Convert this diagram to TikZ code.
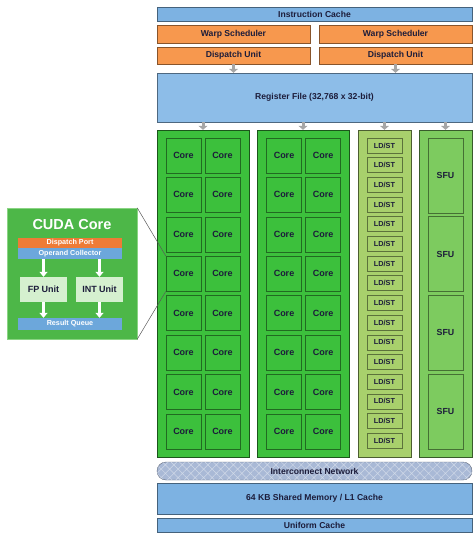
\documentclass[tikz,border=0pt]{standalone}
\usepackage{fontspec}
\setmainfont{Liberation Sans}
\usetikzlibrary{arrows.meta,patterns.meta}
\definecolor{bleu}{HTML}{7DB2E2}
\definecolor{bleuclair}{HTML}{8DBDE8}
\definecolor{orange}{HTML}{F7984E}
\definecolor{vert}{HTML}{3CC03C}
\definecolor{vertldst}{HTML}{A8D06C}
\definecolor{vertsfu}{HTML}{7DCB5F}
\definecolor{vertcuda}{HTML}{4DB748}
\definecolor{vertbord}{HTML}{8AD483}
\definecolor{vertpale}{HTML}{D5F0CF}
\definecolor{orangecuda}{HTML}{EE7B36}
\definecolor{bleucuda}{HTML}{6CA7DB}
\definecolor{reseau}{HTML}{A9B9D6}
\definecolor{gris}{HTML}{A6A6A6}
\definecolor{encre}{HTML}{1C1C3A}
\begin{document}
\begin{tikzpicture}[x=1pt,y=-1pt,
    bloc/.style={draw=#1!55!black,fill=#1,inner sep=0pt,text=encre,
      font=\bfseries\fontsize{8.6}{10}\selectfont},
    colonne/.style={draw=#1!45!black,fill=#1,inner sep=0pt,minimum height=327pt},
    core/.style={bloc=vert,minimum width=35pt,minimum height=35pt,
      font=\bfseries\fontsize{9}{10}\selectfont},
    ldst/.style={bloc=vertldst,minimum width=35pt,minimum height=15pt,
      font=\bfseries\fontsize{7.3}{8}\selectfont},
    sfu/.style={bloc=vertsfu,minimum width=35pt,minimum height=75pt,
      font=\bfseries\fontsize{8.8}{10}\selectfont},
    fleche/.style={-{Triangle[width=9pt,length=4pt]},line width=3pt,draw=gris},
    blanche/.style={-{Triangle[width=8pt,length=5pt]},line width=2.5pt,draw=white},
    petit/.style={inner sep=0pt,text=white,font=\bfseries\fontsize{7.2}{8}\selectfont},
    trait/.style={draw=black!65,line width=0.5pt}]
  \useasboundingbox (0,0) rectangle (474,537) ;
  %--- Ordonnancement
  \node[bloc=bleu,minimum width=315pt,minimum height=14pt] (ic) at (314.5,14) {Instruction Cache} ;
  \node[bloc=orange,minimum width=153pt,minimum height=18pt] (ws1) at (233.5,34) {Warp Scheduler} ;
  \node[bloc=orange,minimum width=153pt,minimum height=18pt] (ws2) at (395.5,34) {Warp Scheduler} ;
  \node[bloc=orange,minimum width=153pt,minimum height=17pt] (du1) at (233.5,55.5) {Dispatch Unit} ;
  \node[bloc=orange,minimum width=153pt,minimum height=17pt] (du2) at (395.5,55.5) {Dispatch Unit} ;
  \node[bloc=bleuclair,minimum width=315pt,minimum height=49pt] (rf) at (314.5,97.5) {Register File (32,768 x 32-bit)} ;
  \draw[fleche] (du1.south) -- (rf.north -| du1) ;
  \draw[fleche] (du2.south) -- (rf.north -| du2) ;
  %--- Colonnes
  \node[colonne=vert,minimum width=92pt] (col1) at (203,293.5) {} ;
  \node[colonne=vert,minimum width=92pt] (col2) at (303,293.5) {} ;
  \node[colonne=vertldst,minimum width=53pt] (col3) at (384.5,293.5) {} ;
  \node[colonne=vertsfu,minimum width=53pt] (col4) at (445.5,293.5) {} ;
  \foreach \k in {1,...,4}
    \draw[fleche] (rf.south -| col\k) -- (col\k.north) ;
  \foreach \c/\x in {1/183.5,2/222.5,3/284,4/323}
    \foreach \r in {1,...,8}
      \node[core] (c\c\r) at (\x,{155.5+39.4*(\r-1)}) {Core} ;
  \foreach \i in {1,...,16}
    \node[ldst] (ls\i) at (384.5,{145.5+19.67*(\i-1)}) {LD/ST} ;
  \foreach \i in {1,...,4}
    \node[sfu] (sfu\i) at (445.5,{175.5+78.67*(\i-1)}) {SFU} ;
  %--- Memoire
  \node[bloc=reseau,minimum width=315pt,minimum height=18pt,rounded corners=9pt,
    postaction={pattern={Hatch[angle=45,distance=6pt,line width=0.5pt]},pattern color=white!45!reseau}] (net) at (314.5,471) {} ;
  \node[text=encre,font=\bfseries\fontsize{8.6}{10}\selectfont] (netl) at (net) {Interconnect Network} ;
  \node[bloc=bleu,minimum width=315pt,minimum height=31pt] (sm) at (314.5,498.5) {64 KB Shared Memory / L1 Cache} ;
  \node[bloc=bleu,minimum width=315pt,minimum height=14pt] (uc) at (314.5,525) {Uniform Cache} ;
  %--- CUDA Core
  \node[draw=vertbord,fill=vertcuda,minimum width=130pt,minimum height=131pt] (cuda) at (72,273.5) {} ;
  \node[text=white,font=\bfseries\fontsize{14.5}{16}\selectfont] (titre) at (72,225) {CUDA Core} ;
  \node[petit,fill=orangecuda,minimum width=104pt,minimum height=10pt] (dp) at (70,243) {Dispatch Port} ;
  \node[petit,fill=bleucuda,minimum width=104pt,minimum height=11pt] (oc) at (70,253.5) {Operand Collector} ;
  \node[petit,fill=vertpale,text=encre,minimum width=47pt,minimum height=25pt,
    font=\bfseries\fontsize{9}{10}\selectfont] (fp) at (43.5,289.5) {FP Unit} ;
  \node[petit,fill=vertpale,text=encre,minimum width=47pt,minimum height=25pt,
    font=\bfseries\fontsize{9}{10}\selectfont] (int) at (99.5,289.5) {INT Unit} ;
  \node[petit,fill=bleucuda,minimum width=104pt,minimum height=12pt] (rq) at (70,324) {Result Queue} ;
  \draw[blanche] (oc.south -| fp) -- (fp.north) ;
  \draw[blanche] (oc.south -| int) -- (int.north) ;
  \draw[blanche] (fp.south) -- (rq.north -| fp) ;
  \draw[blanche] (int.south) -- (rq.north -| int) ;
  \draw[trait] (cuda.north east) -- (c14.north west) ;
  \draw[trait] (cuda.south east) -- (c14.south west) ;
\end{tikzpicture}
\end{document}
